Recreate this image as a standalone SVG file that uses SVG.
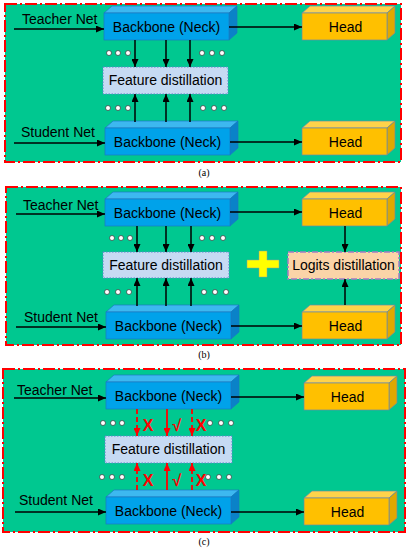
<svg xmlns="http://www.w3.org/2000/svg" width="409" height="550" viewBox="0 0 409 550">
<defs>
<marker id="ah" markerUnits="userSpaceOnUse" markerWidth="8" markerHeight="7" refX="8" refY="3.5" orient="auto"><path d="M0,0 L8,3.5 L0,7 z" fill="#000"/></marker>
<marker id="ahr" markerUnits="userSpaceOnUse" markerWidth="8" markerHeight="7" refX="8" refY="3.5" orient="auto"><path d="M0,0 L8,3.5 L0,7 z" fill="#ff0000"/></marker>
<g id="bb">
<polygon points="0,7 8,0 133,0 125,7" fill="#3db8f0" stroke="#1a78c2" stroke-width="0.7"/>
<polygon points="125,7 133,0 133,27 125,34" fill="#0a82c8" stroke="#1a78c2" stroke-width="0.7"/>
<rect x="0" y="7" width="125" height="27" fill="#00a2ea" stroke="#1a78c2" stroke-width="0.7"/>
</g>
<g id="hd">
<polygon points="0,7 8,0 93,0 85,7" fill="#ffd34a" stroke="#6a8aa8" stroke-width="0.7"/>
<polygon points="85,7 93,0 93,27 85,34" fill="#e0a800" stroke="#6a8aa8" stroke-width="0.7"/>
<rect x="0" y="7" width="85" height="27" fill="#ffc000" stroke="#6a8aa8" stroke-width="0.7"/>
</g>
</defs>
<style>
.panel{fill:#00c890;stroke:#ff0000;stroke-width:2;stroke-dasharray:12,3,2,3}
.t{font-family:"Liberation Sans",Arial,sans-serif;font-size:14px;fill:#000}
.c{font-family:"Liberation Serif","Times New Roman",serif;font-size:10px;fill:#000;text-anchor:middle}
.mk{font-family:"Liberation Sans",Arial,sans-serif;font-size:16px;font-weight:bold;fill:#ff0000;text-anchor:middle}
.fd{fill:#c6daf3;stroke:#5b83c8;stroke-width:1;stroke-dasharray:1.5,1.5}
.ld{fill:#fbd4a8;stroke:#a27cc2;stroke-width:1.5;stroke-dasharray:6,2,2,2}
.dot{fill:#fff;stroke:#333;stroke-width:0.7}
.ln{stroke:#000;stroke-width:1.5;fill:none;marker-end:url(#ah)}
.rs{stroke:#ff0000;stroke-width:1.8;fill:none;marker-end:url(#ahr)}
.rd{stroke:#ff0000;stroke-width:1.8;fill:none;stroke-dasharray:5,3;marker-end:url(#ahr)}
</style>

<!-- Panel (a) -->
<rect class="panel" x="5" y="4" width="396" height="158"/>
<text class="c" x="204" y="176">(a)</text>
<g id="a-teacher-label"><text class="t" x="22" y="24">Teacher Net</text></g>
<g id="a-student-label"><text class="t" x="21" y="137">Student Net</text></g>
<g id="a-teacher-backbone"><use href="#bb" x="104" y="6"/><text class="t" x="166.5" y="32" text-anchor="middle">Backbone (Neck)</text></g>
<g id="a-student-backbone"><use href="#bb" x="105" y="121"/><text class="t" x="167.5" y="147" text-anchor="middle">Backbone (Neck)</text></g>
<g id="a-teacher-head"><use href="#hd" x="302" y="6"/><text class="t" x="345.5" y="32" text-anchor="middle">Head</text></g>
<g id="a-student-head"><use href="#hd" x="302" y="121"/><text class="t" x="345.5" y="147" text-anchor="middle">Head</text></g>
<g id="a-feature"><rect class="fd" x="103" y="67" width="125" height="27"/><text class="t" x="165.5" y="85" text-anchor="middle">Feature distillation</text></g>
<g id="a-dots">
<circle class="dot" cx="109" cy="53" r="2.5"/><circle class="dot" cx="118" cy="53" r="2.5"/><circle class="dot" cx="128" cy="53" r="2.5"/>
<circle class="dot" cx="202" cy="53" r="2.5"/><circle class="dot" cx="212" cy="53" r="2.5"/><circle class="dot" cx="222" cy="53" r="2.5"/>
<circle class="dot" cx="108" cy="108" r="2.5"/><circle class="dot" cx="118" cy="108" r="2.5"/><circle class="dot" cx="128" cy="108" r="2.5"/>
<circle class="dot" cx="203" cy="108" r="2.5"/><circle class="dot" cx="214" cy="108" r="2.5"/><circle class="dot" cx="224" cy="108" r="2.5"/>
</g>

<!-- Panel (b) -->
<rect class="panel" x="6" y="187" width="395" height="158"/>
<text class="c" x="204" y="358">(b)</text>
<g id="b-teacher-label"><text class="t" x="23" y="210">Teacher Net</text></g>
<g id="b-student-label"><text class="t" x="24" y="322">Student Net</text></g>
<g id="b-teacher-backbone"><use href="#bb" x="105" y="192"/><text class="t" x="167.5" y="218" text-anchor="middle">Backbone (Neck)</text></g>
<g id="b-student-backbone"><use href="#bb" x="106" y="305"/><text class="t" x="168.5" y="331" text-anchor="middle">Backbone (Neck)</text></g>
<g id="b-teacher-head"><use href="#hd" x="302" y="192"/><text class="t" x="345.5" y="218" text-anchor="middle">Head</text></g>
<g id="b-student-head"><use href="#hd" x="302" y="305"/><text class="t" x="345.5" y="331" text-anchor="middle">Head</text></g>
<g id="b-feature"><rect class="fd" x="103" y="252" width="126" height="26"/><text class="t" x="166" y="270" text-anchor="middle">Feature distillation</text></g>
<g id="b-logits"><rect class="ld" x="288" y="252" width="111" height="27"/><text class="t" x="343.5" y="270" text-anchor="middle">Logits distillation</text></g>
<g id="b-plus"><path d="M259,251 H267 V260 H279 V268 H267 V277 H259 V268 H247 V260 H259 z" fill="#ffff00" stroke="#9a9a9a" stroke-width="0.5"/></g>
<g id="b-dots">
<circle class="dot" cx="112" cy="238" r="2.5"/><circle class="dot" cx="121" cy="238" r="2.5"/><circle class="dot" cx="130" cy="238" r="2.5"/>
<circle class="dot" cx="202" cy="238" r="2.5"/><circle class="dot" cx="212" cy="238" r="2.5"/><circle class="dot" cx="223" cy="238" r="2.5"/>
<circle class="dot" cx="107" cy="292" r="2.5"/><circle class="dot" cx="118" cy="292" r="2.5"/><circle class="dot" cx="129" cy="292" r="2.5"/>
<circle class="dot" cx="204" cy="292" r="2.5"/><circle class="dot" cx="215" cy="292" r="2.5"/><circle class="dot" cx="226" cy="292" r="2.5"/>
</g>

<!-- Panel (c) -->
<rect class="panel" x="3" y="369" width="402" height="163"/>
<text class="c" x="204" y="545">(c)</text>
<g id="c-teacher-label"><text class="t" x="17" y="395">Teacher Net</text></g>
<g id="c-student-label"><text class="t" x="19" y="505">Student Net</text></g>
<g id="c-teacher-backbone"><use href="#bb" x="106" y="375"/><text class="t" x="168.5" y="401" text-anchor="middle">Backbone (Neck)</text></g>
<g id="c-student-backbone"><use href="#bb" x="106" y="490"/><text class="t" x="168.5" y="516" text-anchor="middle">Backbone (Neck)</text></g>
<g id="c-teacher-head"><use href="#hd" x="304" y="376"/><text class="t" x="347.5" y="402" text-anchor="middle">Head</text></g>
<g id="c-student-head"><use href="#hd" x="304" y="491"/><text class="t" x="347.5" y="517" text-anchor="middle">Head</text></g>
<g id="c-feature"><rect class="fd" x="105" y="436" width="127" height="27"/><text class="t" x="168.5" y="454" text-anchor="middle">Feature distillation</text></g>
<g id="c-dots">
<circle class="dot" cx="103" cy="423" r="2.5"/><circle class="dot" cx="113" cy="423" r="2.5"/><circle class="dot" cx="122" cy="423" r="2.5"/>
<circle class="dot" cx="210" cy="423" r="2.5"/><circle class="dot" cx="221" cy="423" r="2.5"/><circle class="dot" cx="231" cy="423" r="2.5"/>
<circle class="dot" cx="102" cy="477" r="2.5"/><circle class="dot" cx="112" cy="477" r="2.5"/><circle class="dot" cx="122" cy="477" r="2.5"/>
<circle class="dot" cx="208" cy="477" r="2.5"/><circle class="dot" cx="219" cy="477" r="2.5"/><circle class="dot" cx="229" cy="477" r="2.5"/>
</g>
<g id="c-marks">
<text class="mk" x="148" y="431">X</text><text class="mk" x="177" y="431">√</text><text class="mk" x="201" y="431">X</text>
<text class="mk" x="148" y="486">X</text><text class="mk" x="177" y="486">√</text><text class="mk" x="201" y="486">X</text>
</g>

<g id="connectors">
<!-- (a) -->
<line class="ln" x1="14" y1="29" x2="104" y2="29"/>
<line class="ln" x1="14" y1="143" x2="105" y2="143"/>
<line class="ln" x1="229" y1="27" x2="302" y2="27"/>
<line class="ln" x1="230" y1="142" x2="302" y2="142"/>
<line class="ln" x1="135" y1="40" x2="135" y2="67"/>
<line class="ln" x1="166" y1="40" x2="166" y2="67"/>
<line class="ln" x1="190" y1="40" x2="190" y2="67"/>
<line class="ln" x1="135" y1="122" x2="135" y2="94"/>
<line class="ln" x1="166" y1="122" x2="166" y2="94"/>
<line class="ln" x1="190" y1="122" x2="190" y2="94"/>
<!-- (b) -->
<line class="ln" x1="16" y1="214" x2="105" y2="214"/>
<line class="ln" x1="16" y1="327" x2="106" y2="327"/>
<line class="ln" x1="230" y1="212" x2="302" y2="212"/>
<line class="ln" x1="231" y1="326" x2="302" y2="326"/>
<line class="ln" x1="137" y1="226" x2="137" y2="252"/>
<line class="ln" x1="166" y1="226" x2="166" y2="252"/>
<line class="ln" x1="191" y1="226" x2="191" y2="252"/>
<line class="ln" x1="137" y1="306" x2="137" y2="278"/>
<line class="ln" x1="166" y1="306" x2="166" y2="278"/>
<line class="ln" x1="191" y1="306" x2="191" y2="278"/>
<line class="ln" x1="345" y1="226" x2="345" y2="252"/>
<line class="ln" x1="345" y1="305" x2="345" y2="279"/>
<!-- (c) -->
<line class="ln" x1="14" y1="398" x2="106" y2="398"/>
<line class="ln" x1="15" y1="512" x2="106" y2="512"/>
<line class="ln" x1="231" y1="397" x2="304" y2="397"/>
<line class="ln" x1="231" y1="512" x2="304" y2="512"/>
<line class="rd" x1="137" y1="409" x2="137" y2="436"/>
<line class="rs" x1="167" y1="409" x2="167" y2="436"/>
<line class="rd" x1="192" y1="409" x2="192" y2="436"/>
<line class="rd" x1="137" y1="490" x2="137" y2="463"/>
<line class="rs" x1="167" y1="490" x2="167" y2="463"/>
<line class="rd" x1="192" y1="490" x2="192" y2="463"/>
</g>
</svg>
